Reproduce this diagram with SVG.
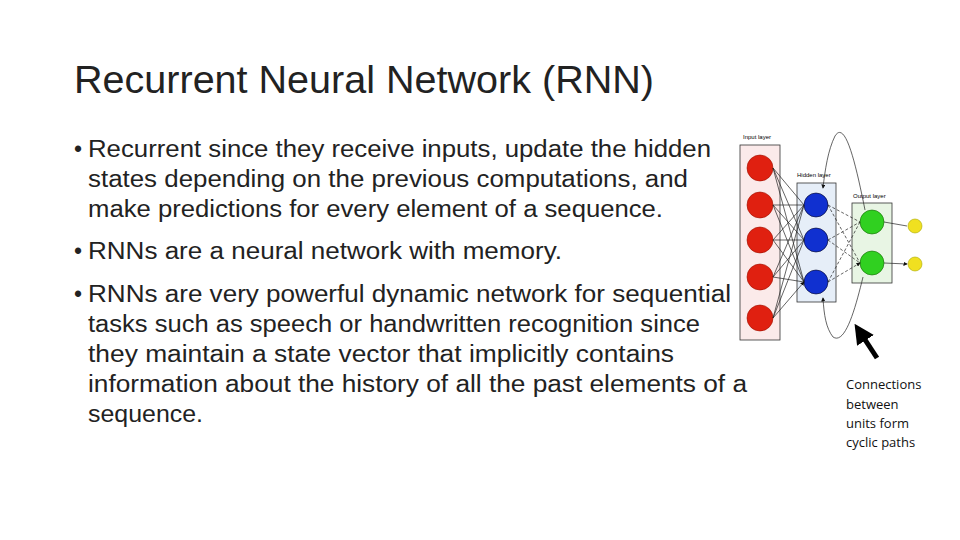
<svg xmlns="http://www.w3.org/2000/svg" width="960" height="540" viewBox="0 0 960 540">
<defs>
<marker id="a" markerWidth="6" markerHeight="6" refX="5" refY="3" orient="auto"><path d="M0,0L6,3L0,6z" fill="#111"/></marker>
<marker id="big" markerWidth="4" markerHeight="4" refX="2" refY="2" orient="auto"><path d="M0,0L4,2L0,4z" fill="#000"/></marker>
</defs>
<style>
.t{font-family:"Liberation Sans",Arial,sans-serif;fill:#222}
.b{font-size:23px}
.l{font-size:6px;font-family:"Liberation Sans",sans-serif}
.e{stroke:#222;stroke-width:0.7;fill:none;marker-end:url(#a)}
.c{font-family:"Open Sans",sans-serif;font-size:13px;fill:#111}
</style>
<rect width="960" height="540" fill="#fff"/>
<text class="t" x="74" y="93" font-size="38" fill="#404040" textLength="580" lengthAdjust="spacingAndGlyphs">Recurrent Neural Network (RNN)</text>
<g class="t b">
<text x="74" y="157">•</text><text x="74" y="259">•</text><text x="74" y="302">•</text>
<text x="88" y="157" textLength="623" lengthAdjust="spacingAndGlyphs">Recurrent since they receive inputs, update the hidden</text>
<text x="88" y="187" textLength="600" lengthAdjust="spacingAndGlyphs">states depending on the previous computations, and</text>
<text x="88" y="217" textLength="575" lengthAdjust="spacingAndGlyphs">make predictions for every element of a sequence.</text>
<text x="88" y="259" textLength="474" lengthAdjust="spacingAndGlyphs">RNNs are a neural network with memory.</text>
<text x="88" y="302" textLength="643" lengthAdjust="spacingAndGlyphs">RNNs are very powerful dynamic network for sequential</text>
<text x="88" y="332" textLength="612" lengthAdjust="spacingAndGlyphs">tasks such as speech or handwritten recognition since</text>
<text x="88" y="362" textLength="586" lengthAdjust="spacingAndGlyphs">they maintain a state vector that implicitly contains</text>
<text x="88" y="392" textLength="659" lengthAdjust="spacingAndGlyphs">information about the history of all the past elements of a</text>
<text x="88" y="422" textLength="115" lengthAdjust="spacingAndGlyphs">sequence.</text>
</g>
<g id="input"><rect x="740" y="145" width="40" height="195" fill="#fbeaea" stroke="#333" stroke-width="0.8"/>
<text class="l" x="743" y="139">Input layer</text>
<g fill="#e02010" stroke="#a01000" stroke-width="0.6"><circle cx="760" cy="168" r="13"/><circle cx="760" cy="205" r="13"/><circle cx="760" cy="240" r="13"/><circle cx="760" cy="277" r="13"/><circle cx="760" cy="318" r="13"/></g></g>
<g id="hidden"><rect x="797" y="183" width="39" height="119" fill="#e6eef8" stroke="#333" stroke-width="0.8"/>
<text class="l" x="797" y="177">Hidden layer</text>
<g fill="#1030d0" stroke="#002" stroke-width="0.6"><circle cx="816" cy="205" r="12"/><circle cx="816" cy="240" r="12"/><circle cx="816" cy="282" r="12"/></g></g>
<g id="output"><rect x="852" y="203" width="40" height="80" fill="#e8f5e4" stroke="#333" stroke-width="0.8"/>
<text class="l" x="853" y="198">Output layer</text>
<g fill="#30d020" stroke="#160" stroke-width="0.6"><circle cx="872" cy="222" r="12"/><circle cx="872" cy="263" r="12"/></g>
<g fill="#f0e020" stroke="#aa0" stroke-width="0.6"><circle cx="915" cy="226" r="7"/><circle cx="915" cy="264" r="7"/></g></g>
<g id="connectors">
<path class="e" d="M773,168L804,205M773,168L804,240M773,168L804,282M773,205L804,205M773,205L804,240M773,205L804,282M773,240L804,205M773,240L804,240M773,240L804,282M773,277L804,205M773,277L804,240M773,277L804,282M773,318L804,205M773,318L804,240M773,318L804,282"/>
<path class="e" d="M828,205L860,222M828,205L860,263M828,240L860,222M828,240L860,263M828,282L860,222M828,282L860,263" stroke-dasharray="3,2"/>
<path class="e" d="M884,222L907,226M884,263L907,264"/>
<path class="e" d="M865,210C855,160 845,120 835,136C828,150 825,170 823,188"/>
<path class="e" d="M863,277C855,310 845,345 833,337C826,328 824,315 823,298"/>
<path d="M877,358L860,332" stroke="#000" stroke-width="5" marker-end="url(#big)"/>
</g>
<g class="c"><text x="846" y="389">Connections</text><text x="846" y="409">between</text><text x="846" y="428">units form</text><text x="846" y="447">cyclic paths</text></g>
</svg>
